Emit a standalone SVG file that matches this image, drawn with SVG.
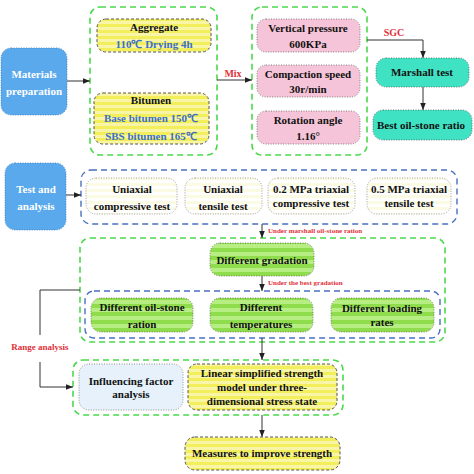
<svg xmlns="http://www.w3.org/2000/svg" width="474" height="474" viewBox="0 0 474 474">
<defs>
<pattern id="ys" width="6" height="6" patternUnits="userSpaceOnUse"><rect width="6" height="6" fill="#f3ee5c"/><rect y="3" width="6" height="3" fill="#f8f5a6"/></pattern>
<pattern id="gs" width="8" height="8" patternUnits="userSpaceOnUse"><rect width="8" height="8" fill="#8fdc4c"/><rect y="4" width="8" height="4" fill="#b6ee84"/></pattern>
<pattern id="ws" width="6" height="6" patternUnits="userSpaceOnUse"><rect width="6" height="6" fill="#ffffff"/><rect y="3" width="6" height="3" fill="#fbfae2"/></pattern>
<marker id="ah" viewBox="0 0 10 10" refX="10" refY="5" markerWidth="7" markerHeight="7" orient="auto" markerUnits="userSpaceOnUse"><path d="M0,1 L10,5 L0,9 Z" fill="#222"/></marker>
<style>
.t{font-family:"Liberation Serif","Times New Roman",serif;font-weight:bold;font-size:11px;fill:#111;text-anchor:middle}
.w{fill:#fff}
.b{fill:#3b70c6}
.r{font-family:"Liberation Serif","Times New Roman",serif;font-weight:bold;fill:#e0303a}
.gc{fill:none;stroke:#4cd84c;stroke-width:1.6;stroke-dasharray:6,4}
.bc{fill:none;stroke:#4a6fc0;stroke-width:1.4;stroke-dasharray:6,4}
.ln{fill:none;stroke:#333;stroke-width:1}
.yb{fill:url(#ys);stroke:#555;stroke-width:1;stroke-dasharray:3,2}
.pb{fill:#f6c4d8;stroke:#666;stroke-width:0.8;stroke-dasharray:1,1.5}
.tb{fill:#40e2c4;stroke:#555;stroke-width:0.8;stroke-dasharray:1,1.5}
.gb{fill:url(#gs);stroke:#666;stroke-width:0.8;stroke-dasharray:1,1.5}
.wb{fill:url(#ws);stroke:#888;stroke-width:0.8;stroke-dasharray:1,1.5}
.bl{fill:#5aa9ec;stroke:#3a78b8;stroke-width:0.8;stroke-dasharray:1,1.5}
.lb{fill:#e6f1fb;stroke:#777;stroke-width:0.8;stroke-dasharray:1,1.5}
</style>
</defs>

<g id="containers">
<rect class="gc" x="90" y="7" width="127" height="148" rx="10"/>
<rect class="gc" x="252" y="7" width="115" height="148" rx="10"/>
<rect class="bc" x="81" y="170" width="376" height="54" rx="10"/>
<rect class="gc" x="80" y="238" width="365" height="104" rx="10"/>
<rect class="bc" x="85" y="291" width="355" height="47" rx="9"/>
<rect class="gc" x="73" y="360" width="270" height="55" rx="10"/>
</g>

<g id="connectors">
<line class="ln" x1="67" y1="81" x2="90" y2="81" marker-end="url(#ah)"/>
<line class="ln" x1="217" y1="80" x2="252" y2="80" marker-end="url(#ah)"/>
<polyline class="ln" points="367,40 423,40 423,58" marker-end="url(#ah)"/>
<line class="ln" x1="423" y1="87" x2="423" y2="110" marker-end="url(#ah)"/>
<line class="ln" x1="66" y1="195" x2="81" y2="195" marker-end="url(#ah)"/>
<line class="ln" x1="262" y1="224" x2="262" y2="238" marker-end="url(#ah)"/>
<line class="ln" x1="262" y1="276" x2="262" y2="291" marker-end="url(#ah)"/>
<line class="ln" x1="262" y1="338" x2="262" y2="360" marker-end="url(#ah)"/>
<line class="ln" x1="262" y1="415" x2="262" y2="437" marker-end="url(#ah)"/>
<polyline class="ln" points="80,290 40,290 40,335"/>
<polyline class="ln" points="40,362 40,387 73,387" marker-end="url(#ah)"/>
</g>

<g id="labels">
<text class="r" x="233" y="77" font-size="10" text-anchor="middle">Mix</text>
<text class="r" x="394" y="36" font-size="10" text-anchor="middle">SGC</text>
<text class="r" x="268" y="233" font-size="7">Under marshall oil-stone ration</text>
<text class="r" x="268" y="285" font-size="7">Under the best gradation</text>
<text class="r" x="40" y="350" font-size="9" text-anchor="middle">Range analysis</text>
</g>

<g id="materials">
<rect class="bl" x="1" y="48" width="66" height="67" rx="10"/>
<text class="t w" x="34" y="78">Materials</text>
<text class="t w" x="34" y="95">preparation</text>
</g>
<g id="aggregate">
<rect class="yb" x="97" y="19" width="114" height="33" rx="9"/>
<text class="t" x="154" y="31">Aggregate</text>
<text class="t b" x="154" y="48">110℃ Drying 4h</text>
</g>
<g id="bitumen">
<rect class="yb" x="94" y="93" width="115" height="51" rx="9"/>
<text class="t" x="151" y="104">Bitumen</text>
<text class="t b" x="151" y="122">Base bitumen 150℃</text>
<text class="t b" x="151" y="140">SBS bitumen 165℃</text>
</g>
<g id="pressure">
<rect class="pb" x="257" y="19" width="103" height="33" rx="9"/>
<text class="t" x="308" y="32">Vertical pressure</text>
<text class="t" x="308" y="48">600KPa</text>
</g>
<g id="speed">
<rect class="pb" x="257" y="65" width="103" height="32" rx="9"/>
<text class="t" x="308" y="78">Compaction speed</text>
<text class="t" x="308" y="93">30r/min</text>
</g>
<g id="angle">
<rect class="pb" x="257" y="111" width="103" height="33" rx="9"/>
<text class="t" x="308" y="124">Rotation angle</text>
<text class="t" x="308" y="140">1.16°</text>
</g>
<g id="marshall">
<rect class="tb" x="376" y="58" width="93" height="29" rx="10"/>
<text class="t" x="422" y="76">Marshall test</text>
</g>
<g id="best">
<rect class="tb" x="373" y="110" width="99" height="30" rx="10"/>
<text class="t" x="421" y="129">Best oil-stone ratio</text>
</g>
<g id="test">
<rect class="bl" x="5" y="163" width="61" height="67" rx="10"/>
<text class="t w" x="36" y="193">Test and</text>
<text class="t w" x="36" y="210">analysis</text>
</g>
<g id="uc">
<rect class="wb" x="86" y="178" width="91" height="36" rx="10"/>
<text class="t" x="132" y="193">Uniaxial</text>
<text class="t" x="132" y="210">compressive test</text>
</g>
<g id="ut">
<rect class="wb" x="185" y="178" width="77" height="36" rx="10"/>
<text class="t" x="223" y="193">Uniaxial</text>
<text class="t" x="223" y="210">tensile test</text>
</g>
<g id="tc">
<rect class="wb" x="268" y="178" width="87" height="36" rx="10"/>
<text class="t" x="311" y="193">0.2 MPa triaxial</text>
<text class="t" x="311" y="207">compressive test</text>
</g>
<g id="tt">
<rect class="wb" x="367" y="178" width="84" height="36" rx="10"/>
<text class="t" x="409" y="193">0.5 MPa triaxial</text>
<text class="t" x="409" y="207">tensile test</text>
</g>
<g id="gradation">
<rect class="gb" x="210" y="243" width="104" height="33" rx="10"/>
<text class="t" x="262" y="264">Different gradation</text>
</g>
<g id="oilstone">
<rect class="gb" x="91" y="298" width="102" height="34" rx="10"/>
<text class="t" x="142" y="311">Different oil-stone</text>
<text class="t" x="142" y="328">ration</text>
</g>
<g id="temps">
<rect class="gb" x="210" y="298" width="103" height="34" rx="10"/>
<text class="t" x="261" y="311">Different</text>
<text class="t" x="261" y="328">temperatures</text>
</g>
<g id="rates">
<rect class="gb" x="331" y="298" width="103" height="34" rx="10"/>
<text class="t" x="382" y="312">Different loading</text>
<text class="t" x="382" y="326">rates</text>
</g>
<g id="influence">
<rect class="lb" x="79" y="364" width="104" height="46" rx="10"/>
<text class="t" x="131" y="385">Influencing factor</text>
<text class="t" x="131" y="398">analysis</text>
</g>
<g id="model">
<rect class="yb" x="188" y="364" width="149" height="46" rx="9"/>
<text class="t" x="262" y="377">Linear simplified strength</text>
<text class="t" x="262" y="391">model under three-</text>
<text class="t" x="262" y="405">dimensional stress state</text>
</g>
<g id="measures">
<rect class="yb" x="185" y="437" width="155" height="33" rx="10"/>
<text class="t" x="262" y="457">Measures to improve strength</text>
</g>
</svg>
